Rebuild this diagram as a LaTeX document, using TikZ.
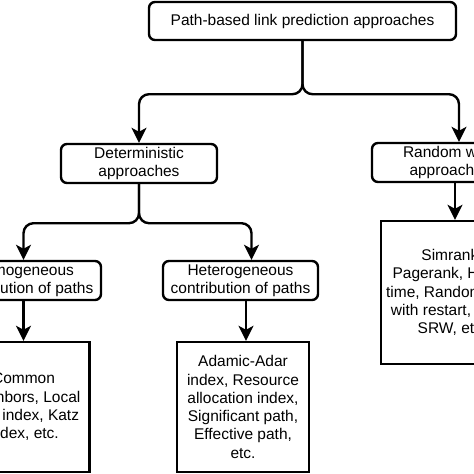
\documentclass[tikz,border=0pt]{standalone}
\usepackage{fontspec}
\setmainfont{Liberation Sans}
\usetikzlibrary{arrows.meta,calc}
\begin{document}
\begin{tikzpicture}[x=1pt,y=1pt,
  txt/.style={font=\fontsize{15.5}{18.3}\selectfont, align=center, inner sep=0pt},
  box/.style={txt, draw, line width=2.4pt, rounded corners=6pt},
  leaf/.style={txt, draw, line width=2.4pt},
  conn/.style={line width=2.4pt, rounded corners=10pt, -{Stealth[length=15pt,width=15pt,inset=4pt]}}]
\useasboundingbox (0,0) rectangle (474,-474);
\clip (0,0) rectangle (474,-474);
\fill[white] (0,0) rectangle (474,-474);

\node[box, minimum width=307pt, minimum height=38pt] (top) at (302.5,-21) {Path-based link prediction approaches};
\node[box, minimum width=156pt, minimum height=39pt] (det) at (139,-163.5) {Deterministic\\approaches};
\node[box, minimum width=156pt, minimum height=39pt] (rw) at (450,-162.5) {Random walk\\approaches};
\node[box, minimum width=155pt, minimum height=39pt] (homo) at (23.5,-280.5) {Homogeneous\\contribution of paths};
\node[box, minimum width=155pt, minimum height=39pt] (het) at (240.5,-280.5) {Heterogeneous\\contribution of paths};
\node[leaf, minimum width=132pt, minimum height=130pt] (common) at (23.5,-407) {Common\\neighbors, Local\\path index, Katz\\index, etc.};
\node[leaf, minimum width=132pt, minimum height=130pt] (adamic) at (243,-407) {Adamic-Adar\\index, Resource\\allocation index,\\Significant path,\\Effective path,\\etc.};
\node[leaf, minimum width=142pt, minimum height=143pt] (sim) at (452,-292.5) {Simrank,\\Pagerank, Hitting\\time, Random walk\\with restart, LRW,\\SRW, etc.};

\coordinate (j1) at ($(top.south)+(0,-53)$);
\coordinate (j2) at ($(det.south)+(0,-39)$);
\coordinate (hetin) at ($(het.north)+(11,0)$);
\coordinate (rwin) at ($(rw.north)+(9,0)$);
\coordinate (adin) at ($(adamic.north)+(3,0)$);
\coordinate (simin) at ($(sim.north)+(3,0)$);

\draw[conn] (top.south) -- (j1) -| (det.north);
\draw[conn] (top.south) -- (j1) -| (rwin);
\draw[conn] (det.south) -- (j2) -| (homo.north);
\draw[conn] (det.south) -- (j2) -| (hetin);
\draw[conn] (homo.south) -- (common.north);
\draw[conn] (adin |- het.south) -- (adin);
\draw[conn] (simin |- rw.south) -- (simin);
\end{tikzpicture}
\end{document}
